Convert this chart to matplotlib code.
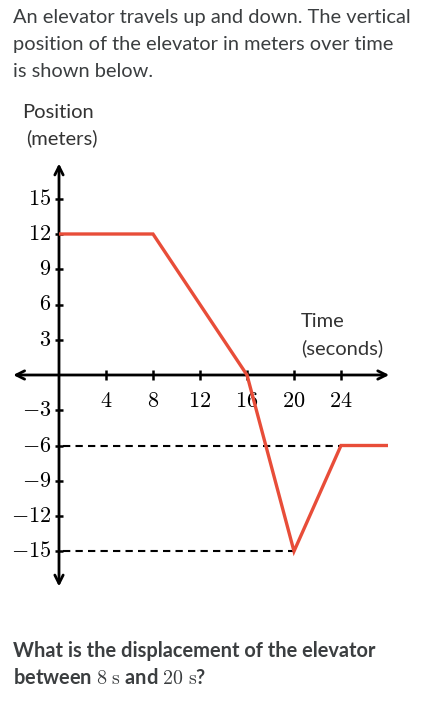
import matplotlib.pyplot as plt

plt.rcParams['mathtext.fontset'] = 'cm'
plt.rcParams['font.family'] = ['Lato', 'DejaVu Sans']

# elevator position over time
times = [0, 8, 16, 20, 24, 28]
positions = [12, 12, 0, -15, -6, -6]

x_ticks = [4, 8, 12, 16, 20, 24]
y_ticks = [15, 12, 9, 6, 3, -3, -6, -9, -12, -15]

# dashed guide lines (level, end time)
guide_levels = [-6, -15]
guide_ends = [24, 20]

W, H = 421, 705
fig = plt.figure(figsize=(W / 100, H / 100), dpi=100)


def fx(px):
    return px / W


def fy(py):
    return 1 - py / H


# chart area: origin at pixel (59, 375), 11.75 px per unit
unit = 11.75
x0, y0 = 59, 375
xmin, xmax = -4.6, 29.0
ymin, ymax = -19.0, 19.0
left = x0 + xmin * unit
right = x0 + xmax * unit
top = y0 - ymax * unit
bottom = y0 - ymin * unit
ax = fig.add_axes([fx(left), fy(bottom), (right - left) / W, (bottom - top) / H])
ax.set_xlim(xmin, xmax)
ax.set_ylim(ymin, ymax)
ax.axis('off')

# axes with arrows
arrow = dict(arrowstyle='<->', color='black', lw=2, mutation_scale=15,
             shrinkA=0, shrinkB=0)
ax.annotate('', xy=(28.1, 0), xytext=(-3.9, 0), arrowprops=arrow)
ax.annotate('', xy=(0, 18.0), xytext=(0, -18.0), arrowprops=arrow)

# tick marks
for t in x_ticks:
    ax.plot([t, t], [-0.42, 0.42], color='black', lw=1.8, solid_capstyle='butt')
for v in y_ticks:
    ax.plot([-0.3, 0.3], [v, v], color='black', lw=1.8, solid_capstyle='butt')

# tick labels
for t in x_ticks:
    ax.text(t, -2.75, f'${t}$', ha='center', va='baseline', fontsize=16, color='black')
for v in y_ticks:
    ax.text(-0.65, v, f'${v}$', ha='right', va='center', fontsize=16, color='black')

# guide lines
for lvl, end in zip(guide_levels, guide_ends):
    ax.plot([0.3, end], [lvl, lvl], color='black', lw=1.5, linestyle=(0, (3.5, 2.5)))

# position line
ax.plot(times, positions, color='#e84d39', lw=2.4, solid_capstyle='butt',
        solid_joinstyle='miter', zorder=5)

# axis labels
ax.text(20.6, 4.1, 'Time', ha='left', va='baseline', fontsize=14.5, color='#333333')
ax.text(20.6, 1.75, '(seconds)', ha='left', va='baseline', fontsize=14.5, color='#333333')

fig.text(fx(22), fy(118), 'Position', ha='left', va='baseline', fontsize=14.5, color='#333333')
fig.text(fx(26), fy(144), '(meters)', ha='left', va='baseline', fontsize=14.5, color='#333333')

# question text
para = ['An elevator travels up and down. The vertical',
        'position of the elevator in meters over time',
        'is shown below.']
for i, line in enumerate(para):
    fig.text(fx(13), fy(23 + 27 * i), line, ha='left', va='baseline',
             fontsize=14.4, color='#3b3e40')

fig.text(fx(13), fy(657), 'What is the displacement of the elevator',
         ha='left', va='baseline', fontsize=14.4, fontweight='bold', color='#3b3e40')
fig.text(fx(13), fy(684), r'between $8\ \mathrm{s}$ and $20\ \mathrm{s}$?',
         ha='left', va='baseline', fontsize=14.4, fontweight='bold', color='#3b3e40')

fig.savefig('out.png', dpi=100)
